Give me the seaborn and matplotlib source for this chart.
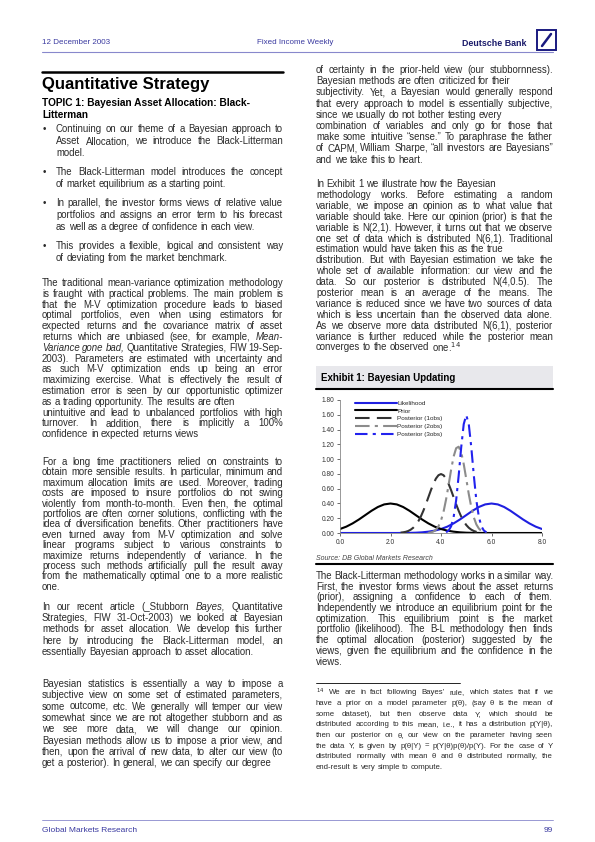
import matplotlib
matplotlib.use("Agg")
import matplotlib.pyplot as plt
import seaborn as sns
import pandas as pd
from matplotlib.patches import Rectangle
from matplotlib.lines import Line2D

sns.set_theme(style="white")
plt.rcParams['font.family'] = ['Liberation Sans', 'DejaVu Sans']

# ---------------- data ----------------
x_wide = [i * 0.25 for i in range(33)]
prior = [0.054, 0.086, 0.130, 0.183, 0.242, 0.301, 0.352, 0.387, 0.399, 0.387, 0.352, 0.301,
         0.242, 0.183, 0.130, 0.086, 0.054, 0.032, 0.018, 0.009, 0.004, 0.002, 0.001, 0.0, 0.0,
         0.0, 0.0, 0.0, 0.0, 0.0, 0.0, 0.0, 0.0]
likelihood = [0.0, 0.0, 0.0, 0.0, 0.0, 0.0, 0.0, 0.0, 0.0, 0.0, 0.001, 0.002, 0.004, 0.009, 0.018,
              0.032, 0.054, 0.086, 0.130, 0.183, 0.242, 0.301, 0.352, 0.387, 0.399, 0.387, 0.352,
              0.301, 0.242, 0.183, 0.130, 0.086, 0.054]
x_post1 = [round(2.4 + i * 0.1, 1) for i in range(33)]
post1 = [0.005, 0.009, 0.016, 0.027, 0.045, 0.071, 0.108, 0.158, 0.222, 0.300, 0.388, 0.484, 0.579,
         0.666, 0.737, 0.782, 0.798, 0.782, 0.737, 0.666, 0.579, 0.484, 0.388, 0.300, 0.222, 0.158,
         0.108, 0.071, 0.045, 0.027, 0.016, 0.009, 0.005]
x_post2 = [round(3.5 + i * 0.1, 1) for i in range(24)]
post2 = [0.003, 0.008, 0.020, 0.044, 0.091, 0.169, 0.286, 0.453, 0.648, 0.856, 1.035, 1.148, 1.168,
         1.091, 0.933, 0.732, 0.527, 0.349, 0.211, 0.116, 0.060, 0.028, 0.012, 0.004]
x_post3 = [round(4.2 + i * 0.1, 1) for i in range(17)]
post3 = [0.010, 0.032, 0.090, 0.216, 0.443, 0.777, 1.159, 1.473, 1.596, 1.473, 1.159, 0.777, 0.443,
         0.216, 0.090, 0.032, 0.010]
series_names = ["Likelihood", "Prior", "Posterior (1obs)", "Posterior (2obs)", "Posterior (3obs)"]
x_ticks = [0.0, 2.0, 4.0, 6.0, 8.0]
y_ticks = [0.0, 0.2, 0.4, 0.6, 0.8, 1.0, 1.2, 1.4, 1.6, 1.8]

W, H = 595, 842
fig = plt.figure(figsize=(W/100, H/100), dpi=100)
fig.patch.set_facecolor("white")
renderer = fig.canvas.get_renderer()

BLUE = "#3a3aa0"
FS = 6.9
TXT = "#2a2a2a"

def T(x, y, s, size=FS, **kw):
    kw.setdefault("va", "center")
    return fig.text(x / W, 1 - y / H, s, fontsize=size, color=kw.pop("color", TXT), **kw)

def HL(x0, x1, y, lw=0.8, color="black"):
    fig.add_artist(Line2D([x0 / W, x1 / W], [1 - y / H, 1 - y / H], lw=lw, color=color))

def width_px(word, size, style):
    t = fig.text(0, 0, word, fontsize=size, style=style)
    w = t.get_window_extent(renderer).width
    t.remove()
    return w

def jline(x0, x1, y, line, size, justify):
    words = line.split(" ")
    items = []
    for wd in words:
        style = "normal"
        if wd.startswith("_"):
            wd = wd[1:]
            style = "italic"
        items.append((wd, style, width_px(wd, size, style)))
    total = sum(w for _, _, w in items)
    space = width_px("a b", size, "normal") - width_px("ab", size, "normal")
    if justify and len(items) > 1:
        gap = (x1 - x0 - total) / (len(items) - 1)
        if gap > space * 3.5:
            gap = space
    else:
        gap = space
    x = x0
    for wd, style, w in items:
        T(x, y, wd, size=size, style=style)
        x += w + gap

def para(x0, x1, y0, lines, step=10.8, size=FS):
    for i, l in enumerate(lines):
        jline(x0, x1, y0 + i * step, l, size, justify=(i < len(lines) - 1))

# header
T(42, 42, "12 December 2003", size=5.8, color=BLUE)
T(295, 42, "Fixed Income Weekly", size=5.8, color=BLUE, ha="center")
T(527, 43, "Deutsche Bank", size=6.4, color="#1a1a6a", ha="right", fontweight="bold")
fig.add_artist(Rectangle((537 / W, 1 - 50 / H), 19 / W, 20 / H, fill=False, ec="#1a1a80", lw=1.4))
fig.add_artist(Line2D([542 / W, 551 / W], [1 - 46 / H, 1 - 34 / H], lw=1.8, color="#1a1a80"))
HL(42, 553, 52, lw=0.8, color="#8888cc")

# left column
HL(42, 283, 72, lw=1.8)
T(42, 84, "Quantitative Strategy", size=12.0, fontweight="bold", color="black")
T(42, 103, "TOPIC 1: Bayesian Asset Allocation: Black-", size=7.3, fontweight="bold", color="black")
T(42, 115, "Litterman", size=7.3, fontweight="bold", color="black")

bullets = [
    (129, ["Continuing on our theme of a Bayesian approach to", "Asset Allocation, we introduce the Black-Litterman", "model."]),
    (172, ["The Black-Litterman model introduces the concept", "of market equilibrium as a starting point."]),
    (203, ["In parallel, the investor forms views of relative value", "portfolios and assigns an error term to his forecast", "as well as a degree of confidence in each view."]),
    (246, ["This provides a flexible, logical and consistent way", "of deviating from the market benchmark."]),
]
for y0, lines in bullets:
    T(43, y0, "\u2022", size=7)
    para(56, 283, y0, lines, step=12)

para(42, 283, 283, [
    "The traditional mean-variance optimization methodology",
    "is fraught with practical problems. The main problem is",
    "that the M-V optimization procedure leads to biased",
    "optimal portfolios, even when using estimators for",
    "expected returns and the covariance matrix of asset",
    "returns which are unbiased (see, for example, _Mean-",
    "_Variance _gone _bad, Quantitative Strategies, FIW 19-Sep-",
    "2003). Parameters are estimated with uncertainty and",
    "as such M-V optimization ends up being an error",
    "maximizing exercise. What is effectively the result of",
    "estimation error is seen by our opportunistic optimizer",
    "as a trading opportunity. The results are often",
    "unintuitive and lead to unbalanced portfolios with high",
    "turnover. In addition, there is implicitly a 100%",
    "confidence in expected returns views",
])
para(42, 283, 462, [
    "For a long time practitioners relied on constraints to",
    "obtain more sensible results. In particular, minimum and",
    "maximum allocation limits are used. Moreover, trading",
    "costs are imposed to insure portfolios do not swing",
    "violently from month-to-month. Even then, the optimal",
    "portfolios are often corner solutions, conflicting with the",
    "idea of diversification benefits. Other practitioners have",
    "even turned away from M-V optimization and solve",
    "linear programs subject to various constraints to",
    "maximize returns independently of variance. In the",
    "process such methods artificially pull the result away",
    "from the mathematically optimal one to a more realistic",
    "one.",
], step=10.4)
para(42, 283, 607, [
    "In our recent article (_Stubborn _Bayes, Quantitative",
    "Strategies, FIW 31-Oct-2003) we looked at Bayesian",
    "methods for asset allocation. We develop this further",
    "here by introducing the Black-Litterman model, an",
    "essentially Bayesian approach to asset allocation.",
], step=11.2)
para(42, 283, 684, [
    "Bayesian statistics is essentially a way to impose a",
    "subjective view on some set of estimated parameters,",
    "some outcome, etc. We generally will temper our view",
    "somewhat since we are not altogether stubborn and as",
    "we see more data, we will change our opinion.",
    "Bayesian methods allow us to impose a prior view, and",
    "then, upon the arrival of new data, to alter our view (to",
    "get a posterior). In general, we can specify our degree",
], step=11.3)

# right column
para(316, 553, 70, [
    "of certainty in the prior-held view (our stubbornness).",
    "Bayesian methods are often criticized for their",
    "subjectivity. Yet, a Bayesian would generally respond",
    "that every approach to model is essentially subjective,",
    "since we usually do not bother testing every",
    "combination of variables and only go for those that",
    "make some intuitive \u201csense.\u201d To paraphrase the father",
    "of CAPM, William Sharpe, \u201call investors are Bayesians\u201d",
    "and we take this to heart.",
], step=11.2)
para(316, 553, 184, [
    "In Exhibit 1 we illustrate how the Bayesian",
    "methodology works. Before estimating a random",
    "variable, we impose an opinion as to what value that",
    "variable should take. Here our opinion (prior) is that the",
    "variable is N(2,1). However, it turns out that we observe",
    "one set of data which is distributed N(6,1). Traditional",
    "estimation would have taken this as the true",
    "distribution. But with Bayesian estimation we take the",
    "whole set of available information: our view and the",
    "data. So our posterior is distributed N(4,0.5). The",
    "posterior mean is an average of the means. The",
    "variance is reduced since we have two sources of data",
    "which is less uncertain than the observed data alone.",
    "As we observe more data distributed N(6,1), posterior",
    "variance is further reduced while the posterior mean",
    "converges to the observed one.$^{14}$",
], step=10.9)

# exhibit header
fig.add_artist(Rectangle((316 / W, 1 - 389 / H), 237 / W, 23 / H, color="#e8e8ec", lw=0))
T(321, 378, "Exhibit 1: Bayesian Updating", size=7.0, fontweight="bold", color="black")
HL(316, 553, 389, lw=1.5)

# chart
ax = fig.add_axes([340 / W, 1 - 533 / H, 202 / W, 133 / H])
curves = [
    (x_wide, likelihood, "#1f1fe0", "-", series_names[0]),
    (x_wide, prior, "black", "-", series_names[1]),
    (x_post1, post1, "#333333", (0, (7, 3.5)), series_names[2]),
    (x_post2, post2, "#8c8c8c", (0, (7, 2.5, 1.5, 2.5)), series_names[3]),
    (x_post3, post3, "#2222ee", (0, (6, 2.5, 1.5, 2.5)), series_names[4]),
]
for xs, ys, c, ls, name in curves:
    df = pd.DataFrame({"x": xs, "y": ys})
    sns.lineplot(data=df, x="x", y="y", ax=ax, color=c, lw=1.5, label=name)
    ax.lines[-1].set_linestyle(ls)
ax.set_xlim(0, 8)
ax.set_ylim(0, 1.8)
ax.set_xticks(x_ticks)
ax.set_xticklabels([f"{v:.1f}" for v in x_ticks], fontsize=4.8)
ax.set_yticks(y_ticks)
ax.set_yticklabels([f"{v:.2f}" for v in y_ticks], fontsize=4.8)
ax.set_xlabel("")
ax.set_ylabel("")
for s in ["top", "right"]:
    ax.spines[s].set_visible(False)
for s in ["left", "bottom"]:
    ax.spines[s].set_color("#888888")
    ax.spines[s].set_linewidth(0.6)
ax.tick_params(axis="both", length=2, width=0.5, pad=2, colors="#333333", direction="out")
ax.tick_params(left=True, bottom=True)
ax.legend(loc="upper left", fontsize=4.6, frameon=False, handlelength=6.5, handletextpad=0.1,
          labelspacing=0.35, borderaxespad=0.1, bbox_to_anchor=(0.06, 1.02))

T(316, 558, "Source: DB Global Markets Research", size=5.0, style="italic", color="#444444")
HL(316, 553, 564, lw=1.5)

para(316, 553, 576, [
    "The Black-Litterman methodology works in a similar way.",
    "First, the investor forms views about the asset returns",
    "(prior), assigning a confidence to each of them.",
    "Independently we introduce an equilibrium point for the",
    "optimization. This equilibrium point is the market",
    "portfolio (likelihood). The B-L methodology then finds",
    "the optimal allocation (posterior) suggested by the",
    "views, given the equilibrium and the confidence in the",
    "views.",
], step=10.7)

HL(316, 460, 683, lw=0.6)
para(316, 553, 693, [
    "$^{14}$ We are in fact following Bayes\u2019 rule, which states that if we",
    "have a prior on a model parameter p(\u03b8), (say \u03b8 is the mean of",
    "some dataset), but then observe data Y, which should be",
    "distributed according to this mean, i.e., it has a distribution p(Y|\u03b8),",
    "then our posterior on \u03b8, our view on the parameter having seen",
    "the data Y, is given by p(\u03b8|Y) = p(Y|\u03b8)p(\u03b8)/p(Y). For the case of Y",
    "distributed normally with mean \u03b8 and \u03b8 distributed normally, the",
    "end-result is very simple to compute.",
], step=10.6, size=5.6)

# footer
HL(42, 553, 820, lw=0.6, color="#8888cc")
T(42, 830, "Global Markets Research", size=6.0, color=BLUE)
T(553, 830, "99", size=6.0, color=BLUE, ha="right")

fig.savefig("out.png", dpi=100, facecolor="white")
